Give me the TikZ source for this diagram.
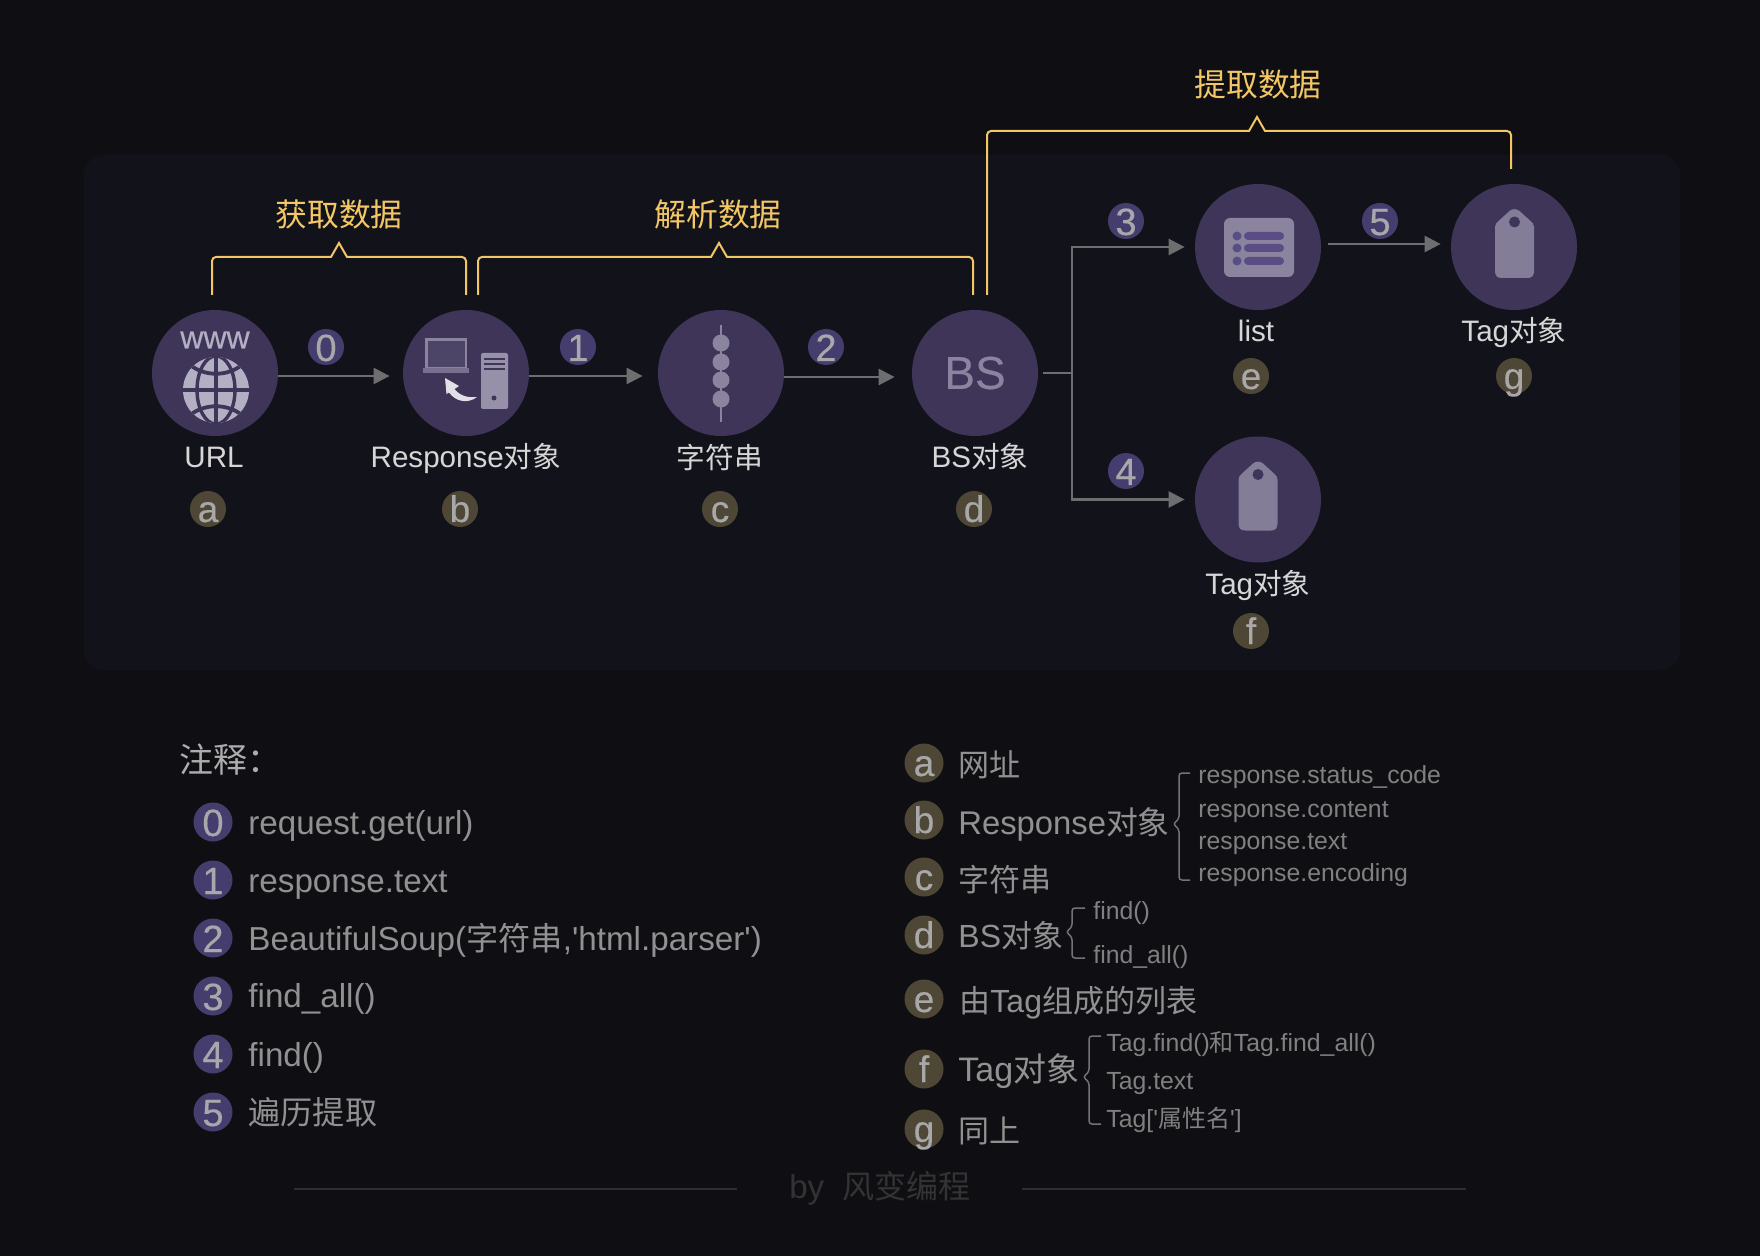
\documentclass[tikz,border=0pt]{standalone}
\usepackage{fontspec}
\setmainfont{Liberation Sans}
\newfontfamily\cjk{Noto Sans CJK SC}[Scale=0.97]
\newfontfamily\medf{Liberation Sans}[FakeBold=0.35]
\usetikzlibrary{arrows.meta}
\definecolor{bgc}{HTML}{0F0F13}
\definecolor{panelc}{HTML}{12121B}
\definecolor{circc}{HTML}{3E3559}
\definecolor{numc}{HTML}{453D6E}
\definecolor{letc}{HTML}{4F4735}
\definecolor{yel}{HTML}{F3C766}
\definecolor{arrc}{HTML}{6E6E70}
\definecolor{iconc}{HTML}{8A849F}
\definecolor{iconl}{HTML}{B4B0C4}
\definecolor{barc}{HTML}{5A4D85}
\definecolor{badgetxt}{HTML}{A8A8AA}
\tikzset{
  fs/.style={font=\fontsize{#1}{#1}\selectfont},
  bigc/.style={circle,fill=circc,minimum size=63pt,inner sep=0pt},
  numb/.style={circle,fill=numc,minimum size=18pt,inner sep=0pt,text=badgetxt,font=\fontsize{19}{19}\selectfont\medf,text height=14pt,text depth=0pt},
  letb/.style={circle,fill=letc,minimum size=18pt,inner sep=0pt,text=badgetxt,font=\fontsize{18.5}{18.5}\selectfont\medf,text height=13pt,text depth=0pt},
  numl/.style={numb,minimum size=19.5pt},
  letl/.style={letb,minimum size=19.5pt},
  arr/.style={draw=arrc,line width=1.3pt,-{Triangle[length=8pt,width=8pt,fill=arrc]}},
  stub/.style={draw=arrc,line width=1.3pt},
  brk/.style={draw=yel,line width=1pt},
  ylab/.style={anchor=base,inner sep=0pt,text=yel,fs=16.4},
  nlab/.style={anchor=base,inner sep=0pt,text=white!84!black,fs=14.8},
  leg/.style={anchor=base west,inner sep=0pt,text=white!57!black,fs=16},
  legw/.style={leg,fs=16.6},
  sub/.style={anchor=base west,inner sep=0pt,text=white!50!black,fs=12.4},
  brace/.style={draw=white!45!black,line width=.75pt,rounded corners=1.5pt},
}
\newcommand{\bracketpath}[6]{%
  \draw[brk,rounded corners=2pt] (#1,#2) -- (#1,#5) [sharp corners] -- (#4-8,#5) -- (#4,#5-14) -- (#4+8,#5) [rounded corners=2pt] -- (#6,#5) -- (#6,#3);}
\newcommand{\tagicon}[1]{%
  \begin{scope}[shift={(#1)}]
    \fill[iconc!95!black] (-19.5,24) -- (-19.5,-20) .. controls (-19.5,-23) and (-18,-24) .. (-16,-26) -- (-5,-36) .. controls (-2,-38.5) and (2,-38.5) .. (5,-36) -- (16,-26) .. controls (18,-24) and (19.5,-23) .. (19.5,-20) -- (19.5,24) .. controls (19.5,29) and (17,31) .. (13,31) -- (-13,31) .. controls (-17,31) and (-19.5,29) .. (-19.5,24) -- cycle;
    \fill[circc] (0,-25) circle (5.5);
  \end{scope}}
\begin{document}
\begin{tikzpicture}[x=0.5pt,y=-0.5pt]
\useasboundingbox (0,0) rectangle (1760,1256);
\fill[bgc] (0,0) rectangle (1760,1256);
\fill[panelc,rounded corners=10pt] (84,155) rectangle (1680,670);

% main circles
\node[bigc] (url) at (215,373) {};
\node[bigc] (resp) at (466,373) {};
\node[bigc] (str) at (721,373) {};
\node[bigc] (bs) at (975,373) {};
\node[bigc] (list) at (1258,247) {};
\node[bigc] (tagg) at (1514,247) {};
\node[bigc] (tagf) at (1258,499.5) {};
\coordinate (branch) at (1072,373);

% connectors
\draw[arr,shorten >=6.5pt] ([yshift=-1.5pt]url.east) -- ([yshift=-1.5pt]resp.west);
\draw[arr,shorten >=7.5pt] ([yshift=-1.5pt]resp.east) -- ([yshift=-1.5pt]str.west);
\draw[arr,shorten >=8.5pt] ([yshift=-2pt]str.east) -- ([yshift=-2pt]bs.west);
\draw[stub,shorten <=2.5pt] (bs.east) -- (branch);
\draw[arr,shorten >=5pt] (branch) |- (list.west);
\draw[arr,shorten >=5pt] (branch) |- (tagf.west);
\draw[arr,shorten <=3.5pt,shorten >=5pt] ([yshift=1.5pt]list.east) -- ([yshift=1.5pt]tagg.west);

% brackets
\bracketpath{212}{295}{295}{339}{257}{466}
\bracketpath{478}{295}{295}{719}{257}{973}
\bracketpath{987}{295}{169}{1257}{131}{1511}
\node[ylab] (y1) at (339,227) {\cjk 获取数据};
\node[ylab] (y2) at (718,227) {\cjk 解析数据};
\node[ylab] (y3) at (1258,97) {\cjk 提取数据};

% icon: www
\node[inner sep=0pt,text=iconl,font=\fontsize{16}{16}\selectfont\medf] (www) at (215,340) {www};
\begin{scope}[shift={(216,390)}]
  \fill[iconl] (0,0) circle (33);
  \begin{scope}
    \clip (0,0) circle (33);
    \draw[circc,line width=1.7pt] (0,-36) -- (0,36) (-36,0) -- (36,0);
    \draw[circc,line width=1.7pt] (0,0) ellipse (19 and 34);
    \draw[circc,line width=1.9pt] (-27,-26) .. controls (-12,-13) and (12,-13) .. (27,-26);
    \draw[circc,line width=1.9pt] (-27,26) .. controls (-12,13) and (12,13) .. (27,26);
  \end{scope}
\end{scope}

% icon: response
\fill[circc!80!iconc] (425,338) rectangle (467,368);
\draw[iconc,line width=1.2pt] (426.5,339.5) rectangle (466,368);
\fill[iconc!75!circc] (423,368.5) rectangle (469,373);
\fill[iconc!90!white,rounded corners=1pt] (481,353) rectangle (508,409);
\draw[circc,line width=.8pt] (484,359) -- (505,359) (484,364) -- (505,364) (484,369) -- (505,369);
\fill[circc] (494,398) circle (2.5);
\fill[white!75!iconc] (445,378) -- (459,386) -- (454.5,389) .. controls (460,396) and (468,398) .. (477,397) .. controls (468,404) and (456,402) .. (449,392.5) -- (446.5,394) -- cycle;

% icon: string
\draw[iconc,line width=.8pt] (721,325) -- (721,422);
\foreach \yy in {343,362,380,399} \fill[iconc] (721,\yy) circle (8.5);

% icon: BS
\node[inner sep=0pt,text=iconc,font=\fontsize{23}{23}\selectfont\medf] (bstxt) at (975,373) {BS};

% icon: list
\fill[iconc,rounded corners=3pt] (1224,218) rectangle (1294,277);
\foreach \yy in {236,248,261} {
  \fill[barc] (1237,\yy) circle (4.5);
  \fill[barc,rounded corners=2pt] (1244,\yy-4) rectangle (1284,\yy+4);
}

% icon: tags
\tagicon{1514.5,247}
\tagicon{1258,499.5}

% node labels
\node[nlab] (lurl) at (214,468) {URL};
\node[nlab] (lresp) at (466,468) {Response{\cjk 对象}};
\node[nlab] (lstr) at (720,469) {\cjk 字符串};
\node[nlab] (lbs) at (980,468) {BS{\cjk 对象}};
\node[nlab] (llist) at (1256,342) {list};
\node[nlab] (ltagg) at (1514,342) {Tag{\cjk 对象}};
\node[nlab] (ltagf) at (1258,594) {Tag{\cjk 对象}};

% number badges
\node[numb] (n0) at (326,347) {0};
\node[numb] (n1) at (578,347) {1};
\node[numb] (n2) at (826,347) {2};
\node[numb] (n3) at (1126,221) {3};
\node[numb] (n4) at (1126,471) {4};
\node[numb] (n5) at (1380,221) {5};

% letter badges
\node[letb] (la) at (208,509) {a};
\node[letb] (lb) at (460,509) {b};
\node[letb] (lc) at (720,509) {c};
\node[letb] (ld) at (974,509) {d};
\node[letb] (le) at (1251,376) {e};
\node[letb] (lg) at (1514,376) {g};
\node[letb] (lf) at (1251,631) {f};

% legend left
\node[anchor=base west,inner sep=0pt,text=white!68!black,font=\fontsize{17.5}{17.5}\selectfont] (zs) at (179,772) {\cjk 注释：};
\node[numl] (k0) at (213,822) {0};
\node[numl] (k1) at (213,880) {1};
\node[numl] (k2) at (213,938) {2};
\node[numl] (k3) at (213,996) {3};
\node[numl] (k4) at (213,1054) {4};
\node[numl] (k5) at (213,1112) {5};
\node[legw] (t0) at (248,834) {request.get(url)};
\node[legw] (t1) at (248,892) {response.text};
\node[legw] (t2) at (248,950) {BeautifulSoup({\cjk 字符串},\textquotesingle html.parser\textquotesingle)};
\node[legw] (t3) at (248,1007) {find\_all()};
\node[legw] (t4) at (248,1066) {find()};
\node[legw] (t5) at (248,1124) {\cjk 遍历提取};

% legend right
\node[letl] (ka) at (924,763) {a};
\node[letl] (kb) at (924,820) {b};
\node[letl] (kc) at (924,877) {c};
\node[letl] (kd) at (924,935) {d};
\node[letl] (ke) at (924,999) {e};
\node[letl] (kf) at (924,1069) {f};
\node[letl] (kg) at (924,1129) {g};
\node[leg] (ra) at (958,776) {\cjk 网址};
\node[leg,fs=16.4] (rb) at (958,834) {Response{\cjk 对象}};
\node[leg] (rc) at (958,891) {\cjk 字符串};
\node[leg] (rd) at (958,947) {BS{\cjk 对象}};
\node[leg] (re) at (959,1012) {{\cjk 由}Tag{\cjk 组成的列表}};
\node[leg,fs=17] (rf) at (958,1081) {Tag{\cjk 对象}};
\node[leg] (rg) at (958,1142) {\cjk 同上};

\draw[brace] (1190,773) -- (1179,773) -- (1179,819) -- (1173,824) -- (1179,829) -- (1179,880) -- (1190,880);
\draw[brace] (1085,908) -- (1072,908) -- (1072,927) -- (1066,932) -- (1072,937) -- (1072,958) -- (1085,958);
\draw[brace] (1101,1036) -- (1089,1036) -- (1089,1072) -- (1083,1077) -- (1089,1082) -- (1089,1124) -- (1101,1124);

\node[sub] (s1) at (1198,783) {response.status\_code};
\node[sub] (s2) at (1198,817) {response.content};
\node[sub] (s3) at (1198,849) {response.text};
\node[sub] (s4) at (1198,881) {response.encoding};
\node[sub] (s5) at (1093,919) {find()};
\node[sub] (s6) at (1093,963) {find\_all()};
\node[sub] (s7) at (1106,1051) {Tag.find(){\cjk 和}Tag.find\_all()};
\node[sub] (s8) at (1106,1089) {Tag.text};
\node[sub] (s9) at (1106,1127) {Tag[\textquotesingle{\cjk 属性名}\textquotesingle]};

% footer
\draw[draw=white!18!black,line width=.7pt] (294,1189) -- (737,1189);
\draw[draw=white!18!black,line width=.7pt] (1022,1189) -- (1466,1189);
\node[inner sep=0pt,anchor=base,text=white!20!black,font=\fontsize{16.5}{16.5}\selectfont] (foot) at (880,1198) {by\ \ {\cjk 风变编程}};
\end{tikzpicture}
\end{document}
